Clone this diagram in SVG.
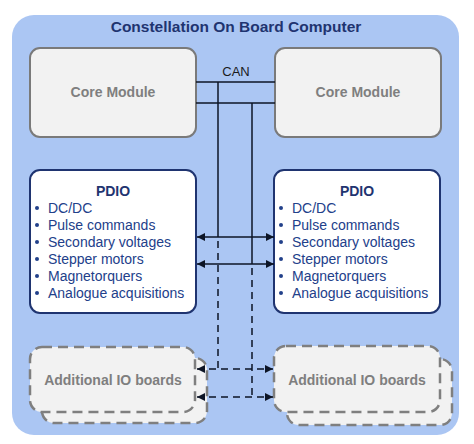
<svg xmlns="http://www.w3.org/2000/svg" width="474" height="444" viewBox="0 0 474 444">
<defs>
<marker id="ah" viewBox="0 0 10 10" refX="10" refY="5" markerWidth="9" markerHeight="8" markerUnits="userSpaceOnUse" orient="auto-start-reverse">
<path d="M0,0 L10,5 L0,10 z" fill="#0d1526"/>
</marker>
<style>
.t{font-family:"Liberation Sans",Arial,sans-serif}
.title{font-size:15.5px;font-weight:bold;fill:#1f3470}
.core{fill:#f2f2f2;stroke:#7a7a7a;stroke-width:2}
.coret{font-size:14px;font-weight:bold;fill:#7f7f7f}
.pdio{fill:#ffffff;stroke:#1f3470;stroke-width:2}
.pdiot{font-size:14px;font-weight:bold;fill:#1f3470}
.item{font-size:14px;fill:#22408a}
.dot{fill:#22408a}
.io{fill:#f2f2f2;stroke:#7f7f7f;stroke-width:2.5;stroke-dasharray:10 6}
.iot{font-size:14px;font-weight:bold;fill:#7f7f7f}
.ln{fill:none;stroke:#0d1526;stroke-width:1.5}
.dl{fill:none;stroke:#0d1526;stroke-width:1.5;stroke-dasharray:7 5}
</style>
</defs>
<g id="background">
<rect x="12" y="15" width="447" height="420" rx="22" fill="#abc6f3"/>
<text class="t title" x="236" y="32" text-anchor="middle">Constellation On Board Computer</text>
</g>
<g id="core-left">
<rect class="core" x="30" y="48" width="166" height="89" rx="10"/>
<text class="t coret" x="113" y="97" text-anchor="middle">Core Module</text>
</g>
<g id="core-right">
<rect class="core" x="275" y="48" width="166" height="89" rx="10"/>
<text class="t coret" x="358" y="97" text-anchor="middle">Core Module</text>
</g>
<g id="pdio-left">
<rect class="pdio" x="30" y="170" width="166" height="143" rx="10"/>
<text class="t pdiot" x="113" y="196" text-anchor="middle">PDIO</text>
<circle class="dot" cx="37" cy="208" r="2"/><text class="t item" x="48" y="213">DC/DC</text>
<circle class="dot" cx="37" cy="225" r="2"/><text class="t item" x="48" y="230">Pulse commands</text>
<circle class="dot" cx="37" cy="242" r="2"/><text class="t item" x="48" y="247">Secondary voltages</text>
<circle class="dot" cx="37" cy="259" r="2"/><text class="t item" x="48" y="264">Stepper motors</text>
<circle class="dot" cx="37" cy="276" r="2"/><text class="t item" x="48" y="281">Magnetorquers</text>
<circle class="dot" cx="37" cy="293" r="2"/><text class="t item" x="48" y="298">Analogue acquisitions</text>
</g>
<g id="pdio-right">
<rect class="pdio" x="274" y="170" width="166" height="143" rx="10"/>
<text class="t pdiot" x="357" y="196" text-anchor="middle">PDIO</text>
<circle class="dot" cx="281" cy="208" r="2"/><text class="t item" x="292" y="213">DC/DC</text>
<circle class="dot" cx="281" cy="225" r="2"/><text class="t item" x="292" y="230">Pulse commands</text>
<circle class="dot" cx="281" cy="242" r="2"/><text class="t item" x="292" y="247">Secondary voltages</text>
<circle class="dot" cx="281" cy="259" r="2"/><text class="t item" x="292" y="264">Stepper motors</text>
<circle class="dot" cx="281" cy="276" r="2"/><text class="t item" x="292" y="281">Magnetorquers</text>
<circle class="dot" cx="281" cy="293" r="2"/><text class="t item" x="292" y="298">Analogue acquisitions</text>
</g>
<g id="io-left">
<rect class="io" x="42" y="358" width="165" height="65" rx="12"/>
<rect class="io" x="30" y="347" width="165" height="65" rx="12"/>
<text class="t iot" x="113" y="385" text-anchor="middle">Additional IO boards</text>
</g>
<g id="io-right">
<rect class="io" x="287" y="359" width="165" height="66" rx="12"/>
<rect class="io" x="274" y="346" width="166" height="66" rx="12"/>
<text class="t iot" x="357" y="385" text-anchor="middle">Additional IO boards</text>
</g>
<g id="connectors">
<text class="t" x="236" y="76" text-anchor="middle" font-size="13" fill="#1a1a1a">CAN</text>
<line class="ln" x1="196" y1="82" x2="275" y2="82"/>
<line class="ln" x1="196" y1="103" x2="275" y2="103"/>
<line class="ln" x1="218" y1="82" x2="218" y2="237"/>
<line class="ln" x1="252" y1="103" x2="252" y2="264"/>
<line class="dl" x1="218" y1="241" x2="218" y2="369"/>
<line class="dl" x1="252" y1="268" x2="252" y2="397"/>
<line class="ln" x1="197" y1="237" x2="274" y2="237" marker-start="url(#ah)" marker-end="url(#ah)"/>
<line class="ln" x1="197" y1="264" x2="274" y2="264" marker-start="url(#ah)" marker-end="url(#ah)"/>
<line class="dl" x1="197" y1="369" x2="273" y2="369" marker-start="url(#ah)" marker-end="url(#ah)"/>
<line class="dl" x1="197" y1="397" x2="273" y2="397" marker-start="url(#ah)" marker-end="url(#ah)"/>
</g>
</svg>
